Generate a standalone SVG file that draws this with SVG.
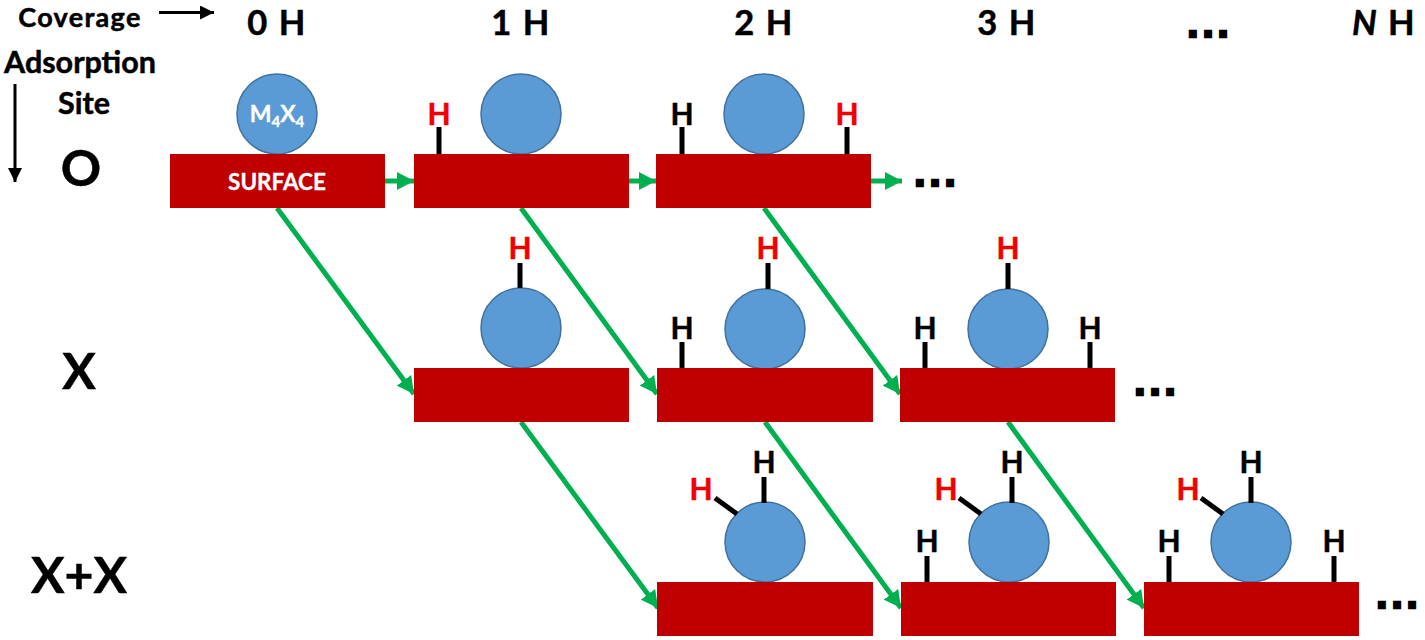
<svg xmlns="http://www.w3.org/2000/svg" width="1425" height="640" viewBox="0 0 1425 640">
<style>
text{font-family:Lato,"Liberation Sans",sans-serif;font-weight:700;text-anchor:middle;fill:#000;stroke:#000;stroke-width:.5}
.s{fill:#c00000}
.b{fill:#5b9bd5;stroke:#41719c;stroke-width:1.5}
.k{stroke:#000;stroke-width:5;fill:none}
.h{font-size:30px}
text.r{fill:#f00000;stroke:#f00000}
.t{font-size:34.500px;letter-spacing:1.500px}
.l{font-size:50px}
.c{font-size:30.500px}
.g{stroke:#00b050;stroke-width:5;fill:none;marker-end:url(#ga)}
text.d{font-size:40px;font-family:"Liberation Sans",sans-serif;letter-spacing:4px;stroke-width:2.500px}
text.w{fill:#fff;stroke:#fff;stroke-width:.3}
</style>
<defs>
<marker id="ga" markerUnits="userSpaceOnUse" markerWidth="18" markerHeight="18" refX="17" refY="9" orient="auto"><path d="M0 0L17 9L0 18Z" fill="#00b050"/></marker>
<marker id="ka" markerUnits="userSpaceOnUse" markerWidth="15" markerHeight="14" refX="14" refY="7" orient="auto"><path d="M0 0L14 7L0 14Z" fill="#000"/></marker>
</defs>
<g id="headers">
<text x="80" y="26.500" class="c" style="font-size:27px;letter-spacing:1.300px">Coverage</text>
<line x1="159" y1="12.500" x2="214" y2="12.500" stroke="#000" stroke-width="3" marker-end="url(#ka)"/>
<text x="277" y="34.500" class="t">0 H</text>
<text x="521" y="34.500" class="t">1 H</text>
<text x="764" y="34.500" class="t">2 H</text>
<text x="1007" y="34.500" class="t">3 H</text>
<text x="1210" y="37" class="d">...</text>
<text x="1384" y="34.500" class="t"><tspan font-style="italic">N</tspan> H</text>
<text x="80" y="73" class="c">Adsorption</text>
<text x="84" y="114" class="c">Site</text>
<line x1="15" y1="84" x2="15" y2="182" stroke="#000" stroke-width="3" marker-end="url(#ka)"/>
<text x="81" y="186" class="l">O</text>
<text x="79" y="389" class="l">X</text>
<text x="79" y="593" class="l">X+X</text>
</g>
<g id="connectors">
<line x1="385" y1="181" x2="414" y2="181" class="g"/>
<line x1="629" y1="181" x2="656" y2="181" class="g"/>
<line x1="871" y1="181" x2="902" y2="181" class="g"/>
<line x1="277" y1="208" x2="414" y2="394" class="g"/>
<line x1="521" y1="208" x2="657" y2="394" class="g"/>
<line x1="764" y1="208" x2="900" y2="394" class="g"/>
<line x1="521" y1="422" x2="658" y2="608" class="g"/>
<line x1="765" y1="422" x2="901" y2="608" class="g"/>
<line x1="1008" y1="422" x2="1144" y2="608" class="g"/>
</g>
<g id="n-o0"><circle class="b" cx="277" cy="114" r="40"/><rect class="s" x="170" y="154" width="215" height="54"/>
<text x="277" y="122" class="w" style="font-size:23px">M<tspan font-size="15" dy="5">4</tspan><tspan dy="-5">X</tspan><tspan font-size="15" dy="5">4</tspan></text>
<text x="277" y="190" class="w" style="font-size:22.500px">SURFACE</text></g>
<g id="n-o1"><circle class="b" cx="521" cy="114" r="40"/><rect class="s" x="414" y="154" width="215" height="54"/>
<line class="k" x1="439" y1="127" x2="439" y2="154"/><text x="439" y="125" class="h r">H</text></g>
<g id="n-o2"><circle class="b" cx="764" cy="114" r="40"/><rect class="s" x="656" y="154" width="215" height="54"/>
<line class="k" x1="682" y1="127" x2="682" y2="154"/><text x="682" y="125" class="h">H</text>
<line class="k" x1="847" y1="127" x2="847" y2="154"/><text x="847" y="125" class="h r">H</text></g>
<text id="more-o" x="937" y="186" class="d">...</text>
<g id="n-x1"><circle class="b" cx="521" cy="328" r="40"/><rect class="s" x="414" y="368" width="215" height="54"/>
<line class="k" x1="520" y1="263" x2="520" y2="288"/><text x="520" y="259" class="h r">H</text></g>
<g id="n-x2"><circle class="b" cx="765" cy="329" r="40"/><rect class="s" x="657" y="368" width="216" height="54"/>
<line class="k" x1="768" y1="263" x2="768" y2="289"/><text x="768" y="259" class="h r">H</text>
<line class="k" x1="682" y1="342" x2="682" y2="368"/><text x="682" y="339" class="h">H</text></g>
<g id="n-x3"><circle class="b" cx="1008" cy="329" r="40"/><rect class="s" x="900" y="368" width="215" height="54"/>
<line class="k" x1="1008" y1="263" x2="1008" y2="289"/><text x="1008" y="259" class="h r">H</text>
<line class="k" x1="925" y1="342" x2="925" y2="368"/><text x="925" y="339" class="h">H</text>
<line class="k" x1="1090" y1="342" x2="1090" y2="368"/><text x="1090" y="339" class="h">H</text></g>
<text id="more-x" x="1157" y="395" class="d">...</text>
<g id="n-xx2"><circle class="b" cx="765" cy="542" r="40"/><rect class="s" x="657" y="582" width="216" height="54"/>
<line class="k" x1="764" y1="477" x2="764" y2="503"/><text x="764" y="473" class="h">H</text>
<line class="k" x1="715" y1="498" x2="737" y2="514"/><text x="701" y="500" class="h r">H</text></g>
<g id="n-xx3"><circle class="b" cx="1009" cy="542" r="40"/><rect class="s" x="901" y="582" width="215" height="54"/>
<line class="k" x1="1012" y1="477" x2="1012" y2="503"/><text x="1012" y="473" class="h">H</text>
<line class="k" x1="959" y1="498" x2="981" y2="514"/><text x="946" y="500" class="h r">H</text>
<line class="k" x1="927" y1="556" x2="927" y2="582"/><text x="927" y="552" class="h">H</text></g>
<g id="n-xx4"><circle class="b" cx="1251" cy="542" r="40"/><rect class="s" x="1144" y="582" width="215" height="54"/>
<line class="k" x1="1251" y1="477" x2="1251" y2="503"/><text x="1251" y="473" class="h">H</text>
<line class="k" x1="1201" y1="498" x2="1223" y2="514"/><text x="1188" y="500" class="h r">H</text>
<line class="k" x1="1169" y1="556" x2="1169" y2="582"/><text x="1169" y="552" class="h">H</text>
<line class="k" x1="1334" y1="556" x2="1334" y2="582"/><text x="1334" y="552" class="h">H</text></g>
<text id="more-xx" x="1399" y="608" class="d">...</text>
</svg>
